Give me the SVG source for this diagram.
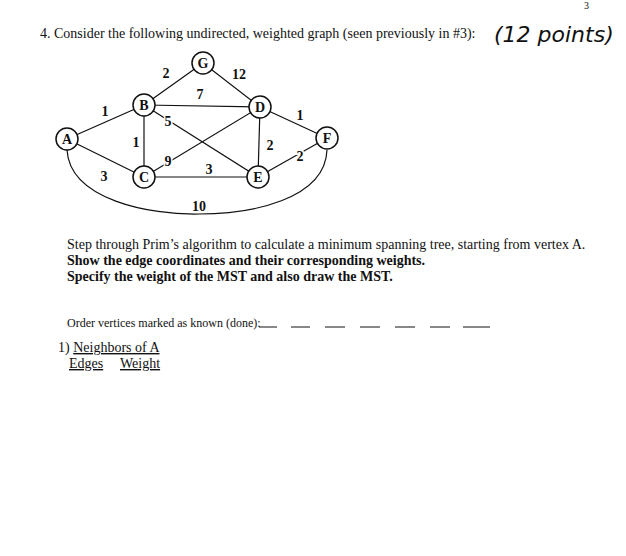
<svg xmlns="http://www.w3.org/2000/svg" width="626" height="556" viewBox="0 0 626 556">
<style>
text{font-family:"Liberation Serif",serif;fill:#111}
.t{font-size:14px}
.b{font-weight:bold}
.n circle{fill:#fff;stroke:#111;stroke-width:1.5}
.n text{font-size:14px;font-weight:bold;text-anchor:middle}
.w{font-size:14px;font-weight:bold;text-anchor:middle}
.w text{stroke:#fff;stroke-width:3px;paint-order:stroke}
#edges line,#edges path{stroke:#111;stroke-width:1.2;fill:none}
.bl{stroke:#111;stroke-width:1}
</style>
<rect width="626" height="556" fill="#fff"/>
<text x="584" y="9" font-size="10">3</text>
<text class="t" x="40" y="38">4. Consider the following undirected, weighted graph (seen previously in #3):</text>
<text x="494" y="42" style="font-family:'DejaVu Sans',sans-serif;font-style:italic;font-size:22px">(12 points)</text>
<g id="edges">
<line x1="67" y1="139" x2="144" y2="105"/>
<line x1="67" y1="139" x2="144" y2="177"/>
<line x1="144" y1="105" x2="203" y2="63"/>
<line x1="203" y1="63" x2="260" y2="107"/>
<line x1="144" y1="105" x2="260" y2="107"/>
<line x1="144" y1="105" x2="144" y2="177"/>
<line x1="144" y1="105" x2="258" y2="177"/>
<line x1="144" y1="177" x2="260" y2="107"/>
<line x1="144" y1="177" x2="258" y2="177"/>
<line x1="260" y1="107" x2="258" y2="177"/>
<line x1="260" y1="107" x2="327" y2="138"/>
<line x1="258" y1="177" x2="327" y2="138"/>
<path d="M67,150 C70,200 150,215 199,214 C250,214 325,200 327,150"/>
</g>
<g class="w">
<text x="166" y="78">2</text><text x="239" y="79">12</text><text x="200" y="99">7</text>
<text x="105" y="116">1</text><text x="168" y="126">5</text><text x="136" y="147">1</text>
<text x="168" y="166">9</text><text x="209" y="174">3</text><text x="104" y="181">3</text>
<text x="270" y="150">2</text><text x="300" y="120">1</text><text x="300" y="161">2</text>
<text x="199" y="211">10</text>
</g>
<g id="A" class="n"><circle cx="67" cy="139" r="11"/><text x="67" y="144">A</text></g>
<g id="B" class="n"><circle cx="144" cy="105" r="11"/><text x="144" y="110">B</text></g>
<g id="C" class="n"><circle cx="144" cy="177" r="11"/><text x="144" y="182">C</text></g>
<g id="D" class="n"><circle cx="260" cy="107" r="11"/><text x="260" y="112">D</text></g>
<g id="E" class="n"><circle cx="258" cy="177" r="11"/><text x="258" y="182">E</text></g>
<g id="F" class="n"><circle cx="327" cy="138" r="11"/><text x="327" y="143">F</text></g>
<g id="G" class="n"><circle cx="203" cy="63" r="11"/><text x="203" y="68">G</text></g>
<text class="t" x="67" y="249">Step through Prim’s algorithm to calculate a minimum spanning tree, starting from vertex A.</text>
<text class="t b" x="67" y="265">Show the edge coordinates and their corresponding weights.</text>
<text class="t b" x="67" y="281">Specify the weight of the MST and also draw the MST.</text>
<text x="67" y="327" font-size="12">Order vertices marked as known (done):</text>
<g class="bl">
<line x1="259" y1="327" x2="277" y2="327"/><line x1="291" y1="327" x2="310" y2="327"/>
<line x1="325" y1="327" x2="345" y2="327"/><line x1="360" y1="327" x2="380" y2="327"/>
<line x1="395" y1="327" x2="415" y2="327"/><line x1="430" y1="327" x2="450" y2="327"/>
<line x1="463" y1="327" x2="490" y2="327"/>
</g>
<text class="t" x="58" y="352">1) <tspan text-decoration="underline">Neighbors of A</tspan></text>
<text class="t" x="69" y="368" text-decoration="underline">Edges </text>
<text class="t" x="120" y="368" text-decoration="underline">Weight</text>
</svg>
